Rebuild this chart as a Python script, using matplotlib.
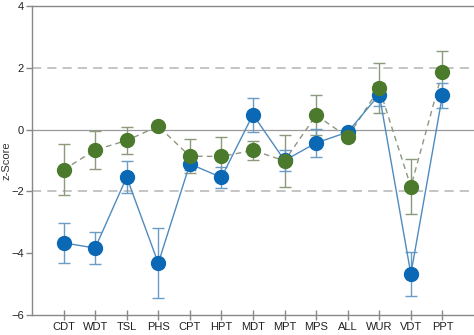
import numpy as np
import matplotlib.pyplot as plt

plt.rcParams['font.family'] = ['Liberation Sans', 'DejaVu Sans']

## Data
tests = ['CDT', 'WDT', 'TSL', 'PHS', 'CPT', 'HPT', 'MDT', 'MPT', 'MPS', 'ALL', 'WUR', 'VDT', 'PPT']
blue_z = [-3.67, -3.84, -1.54, -4.33, -1.11, -1.55, 0.49, -1.00, -0.43, -0.08, 1.14, -4.68, 1.11]
blue_err = [0.65, 0.51, 0.53, 1.13, 0.20, 0.33, 0.55, 0.33, 0.45, 0.10, 0.38, 0.71, 0.40]
green_z = [-1.30, -0.66, -0.35, 0.11, -0.86, -0.87, -0.67, -1.01, 0.47, -0.24, 1.34, -1.85, 1.88]
green_err = [0.83, 0.62, 0.44, 0.05, 0.55, 0.62, 0.30, 0.84, 0.65, 0.10, 0.81, 0.89, 0.68]

x = np.arange(len(tests))

fig = plt.figure(figsize=(4.74, 3.35), dpi=100)
ax = fig.add_axes([0.0675, 0.0606, 0.9325, 0.9206])

# reference lines
ax.axhline(0, color='#9a9a9a', lw=0.9, zorder=1)
for yy in (2, -2):
    ax.axhline(yy, color='#b4b4b4', lw=1.1, ls=(0, (6, 4)), zorder=1)

# green series (dashed)
ax.errorbar(x, green_z, yerr=green_err, fmt='none', ecolor='#8c9a7c', elinewidth=1.0,
            capsize=4, capthick=1.0, zorder=2)
ax.plot(x, green_z, color='#8e9682', lw=1.0, ls=(0, (4, 3)), zorder=3)

# blue series (solid)
ax.errorbar(x, blue_z, yerr=blue_err, fmt='none', ecolor='#6a9cc8', elinewidth=1.0,
            capsize=4, capthick=1.0, zorder=4)
ax.plot(x, blue_z, color='#4f8bbf', lw=1.0, zorder=5)
ax.plot(x, blue_z, 'o', color='#0a68b4', ms=10, mec='#0a68b4', zorder=6)
ax.plot(x, green_z, 'o', color='#4c7a2c', ms=10, mec='#4c7a2c', zorder=7)

ax.set_xlim(-1, 13)
ax.set_ylim(-6, 4)
ax.set_xticks(x)
ax.set_xticklabels(tests)
ax.set_yticks([-6, -4, -2, 0, 2, 4])
ax.set_ylabel('z-Score', fontsize=8, color='#333333')
ax.yaxis.set_label_coords(-0.046, 0.5)

for s in ['left', 'bottom', 'top']:
    ax.spines[s].set_color('#888888')
    ax.spines[s].set_linewidth(1.0)
ax.spines['right'].set_visible(False)

ax.tick_params(axis='x', direction='inout', length=7, width=1.0, color='#888888',
               labelsize=8, labelcolor='#222222', pad=2)
ax.tick_params(axis='y', direction='out', length=4, width=1.0, color='#888888',
               labelsize=8, labelcolor='#222222', pad=2)

fig.savefig('out.png', dpi=100)
